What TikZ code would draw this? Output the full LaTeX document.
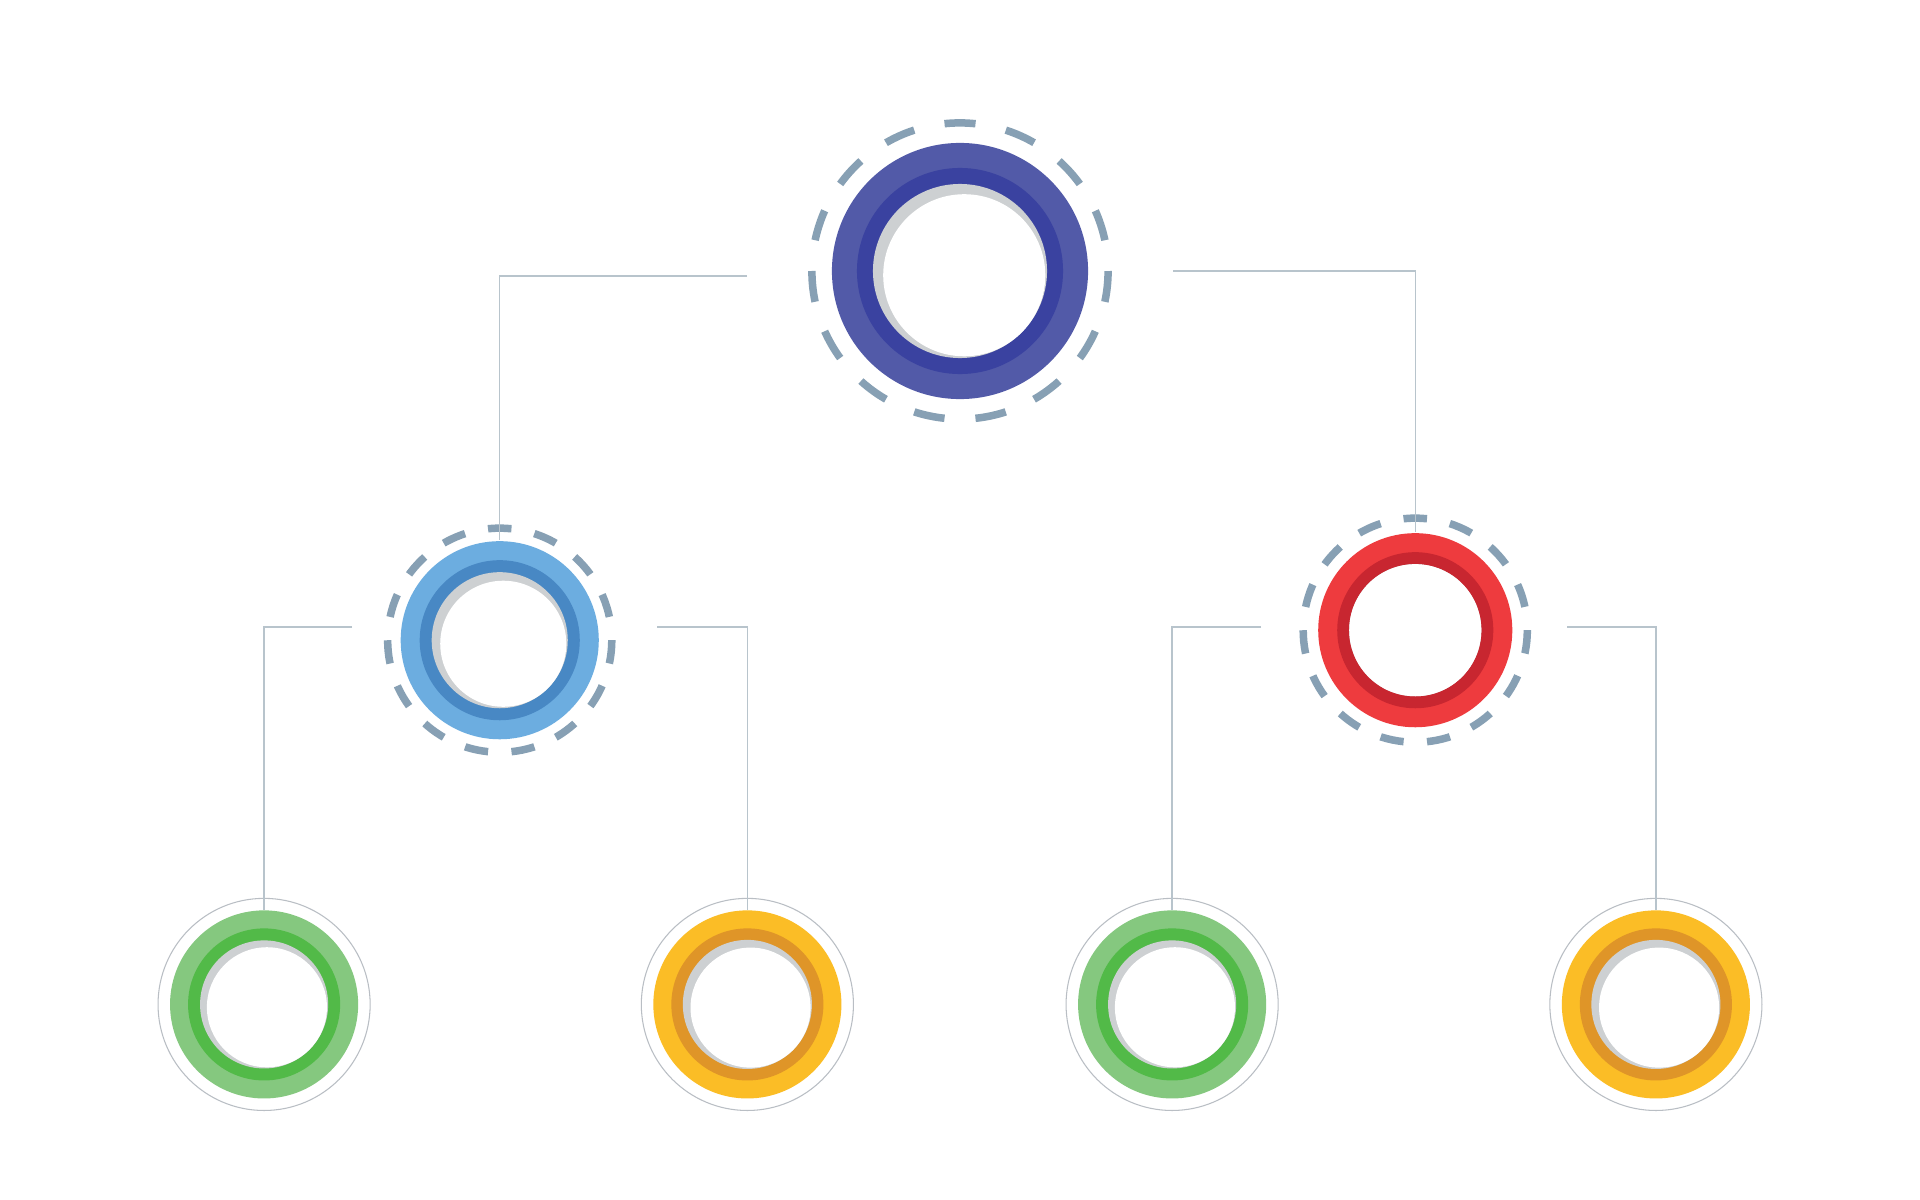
\documentclass[tikz,border=0pt]{standalone}
\usetikzlibrary{positioning}

\definecolor{topout}{RGB}{82,90,168}
\definecolor{topin}{RGB}{58,66,160}
\definecolor{blueout}{RGB}{108,173,224}
\definecolor{bluein}{RGB}{72,136,196}
\definecolor{redout}{RGB}{238,59,62}
\definecolor{redin}{RGB}{200,38,48}
\definecolor{greenout}{RGB}{133,200,127}
\definecolor{greenin}{RGB}{82,186,72}
\definecolor{yellowout}{RGB}{251,189,38}
\definecolor{yellowin}{RGB}{223,149,40}
\definecolor{shadowcol}{RGB}{205,208,210}
\definecolor{dashcol}{RGB}{135,160,180}
\definecolor{linecol}{RGB}{184,196,204}
\definecolor{halocol}{RGB}{185,190,196}

\begin{document}
\begin{tikzpicture}[
    x=0.01cm, y=-0.01cm,
    on grid,
    hub/.style={circle, inner sep=0pt, minimum size=#1},
    link/.style={draw=linecol, line width=0.4pt},
    ringdash/.style={draw=dashcol, line width=0.075cm},
    halo/.style={draw=halocol, line width=0.3pt}
]
\fill[white] (0,0) rectangle (1920,1200);
\useasboundingbox (0,0) rectangle (1920,1200);

% tree of rings
\node[hub=2.56cm, fill=topout] (top) at (960,271) {};
\node[hub=1.98cm, fill=blueout, below left=3.69cm and 4.60cm of top] (midL) {};
\node[hub=1.94cm, fill=redout, below right=3.59cm and 4.55cm of top] (midR) {};
\node[hub=1.88cm, fill=greenout, below left=3.64cm and 2.355cm of midL] (leafA) {};
\node[hub=1.88cm, fill=yellowout, below right=3.64cm and 2.475cm of midL] (leafB) {};
\node[hub=1.88cm, fill=greenout, below left=3.74cm and 2.43cm of midR] (leafC) {};
\node[hub=1.88cm, fill=yellowout, below right=3.74cm and 2.405cm of midR] (leafD) {};

% inner band, hole and its shadow
\foreach \n/\band/\hole/\core/\col in {top/1.03/0.87/0.81/topin, midL/0.80/0.68/0.63/bluein,
    midR/0.78/0.66/0.66/redin, leafA/0.76/0.64/0.60/greenin, leafB/0.76/0.645/0.60/yellowin,
    leafC/0.76/0.64/0.60/greenin, leafD/0.76/0.645/0.60/yellowin} {
  \pgfmathsetmacro\off{(\hole-\core)*0.7071}
  \fill[\col] (\n) circle[radius=\band cm];
  \fill[shadowcol] (\n) circle[radius=\hole cm];
  \fill[white] ([shift={(\off cm,-\off cm)}]\n.center) circle[radius=\core cm];
}

% dashed halos
\foreach \n/\r/\d in {top/1.48/0.31, midL/1.12/0.2346, midR/1.12/0.2346}
  \draw[ringdash, dash pattern=on \d cm off \d cm]
    (\n) ++(84:\r cm) arc[start angle=84, delta angle=360, radius=\r cm];

% thin halos
\foreach \n in {leafA, leafB, leafC, leafD}
  \draw[halo] (\n) circle[radius=1.06cm];

% connectors
\coordinate (tl) at (747,276);
\coordinate (tr) at (1173,271);
\coordinate (la) at (352,627);
\coordinate (lb) at (657,627);
\coordinate (lc) at (1261,627);
\coordinate (ld) at (1567,627);
\draw[link] (tl) -| (midL.north);
\draw[link] (tr) -| (midR.north);
\draw[link] (la) -| (leafA.north);
\draw[link] (lb) -| (leafB.north);
\draw[link] (lc) -| (leafC.north);
\draw[link] (ld) -| (leafD.north);

\end{tikzpicture}
\end{document}
